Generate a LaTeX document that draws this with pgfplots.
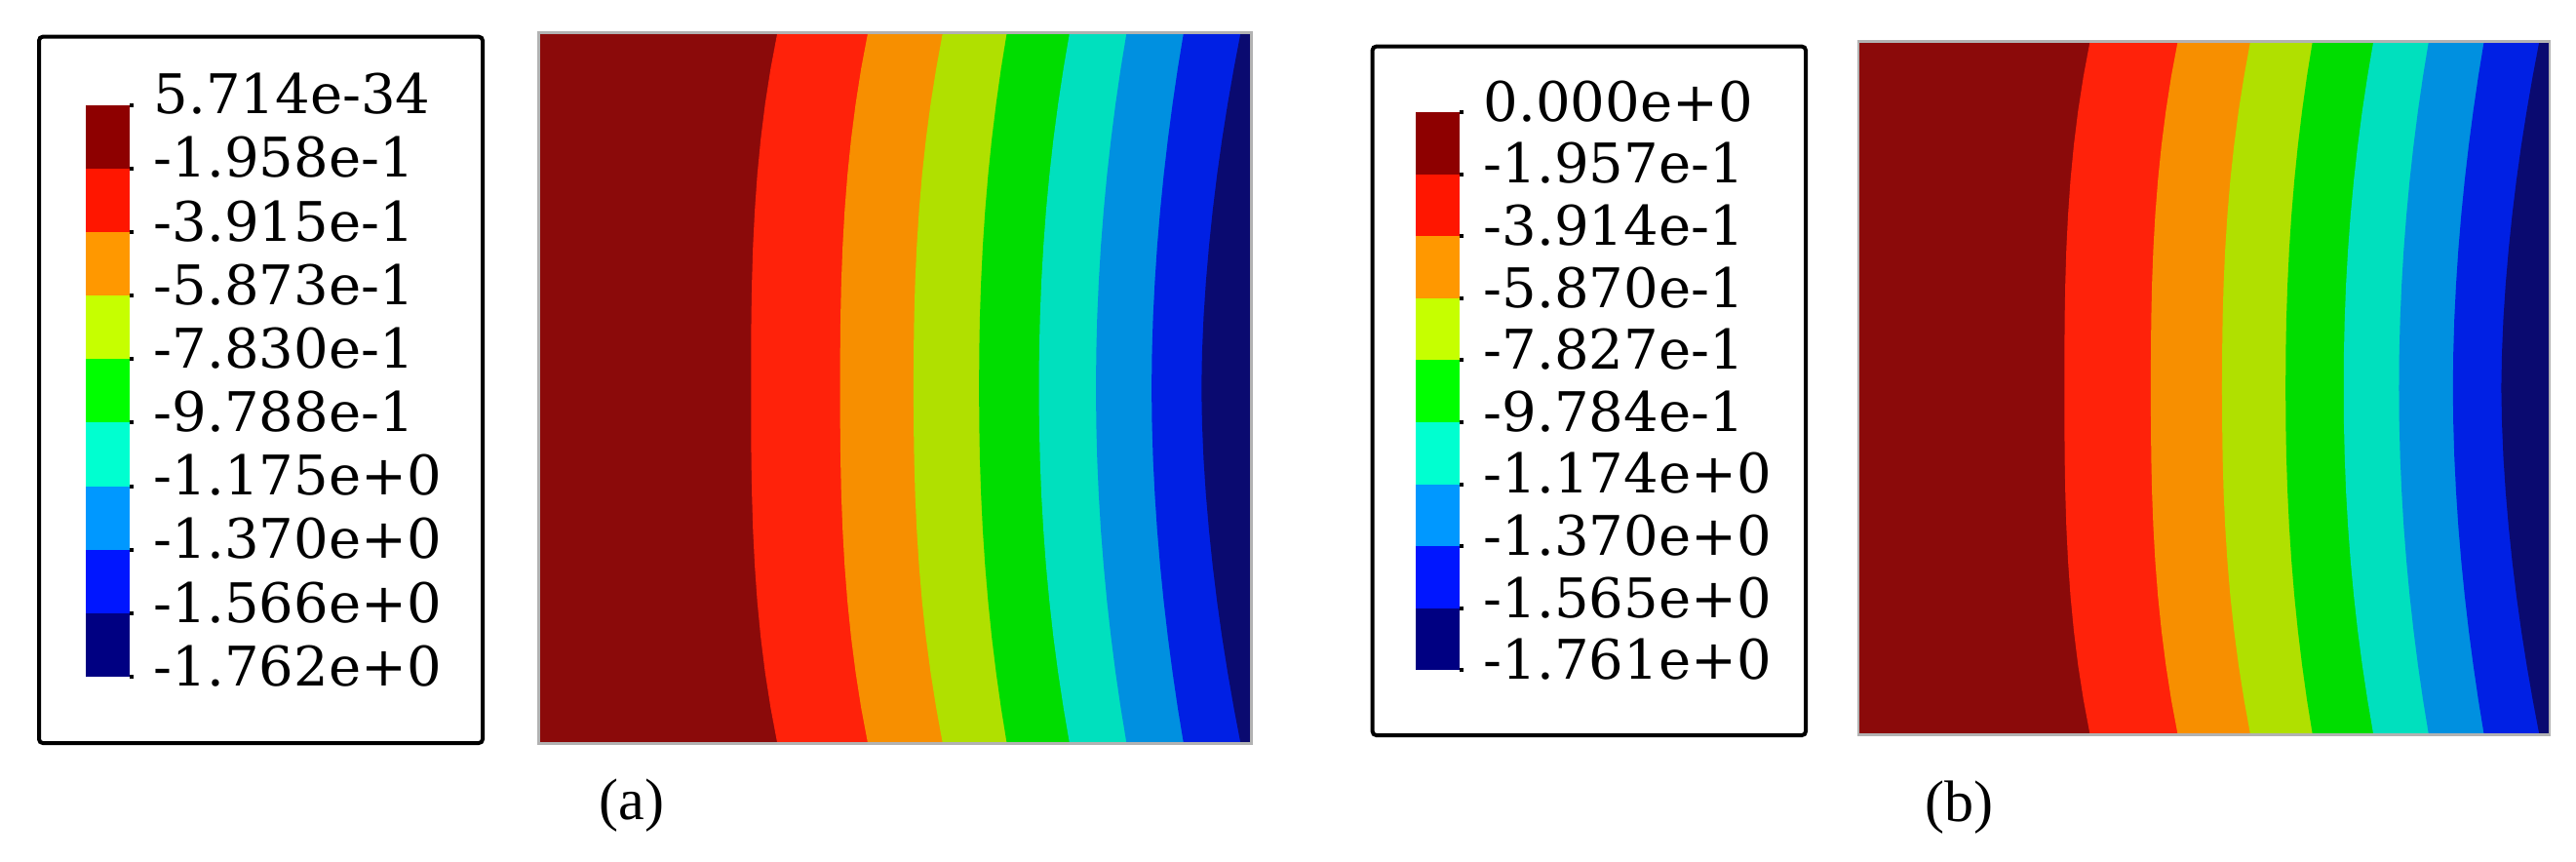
\documentclass[border=0pt]{standalone}
\usepackage{pgfplots}
\pgfplotsset{compat=1.18}
\usepackage{pgfplotstable}
\usepackage{fontspec}
\setmainfont{Liberation Serif}
\newfontfamily\legfont{DejaVu Serif}

% contour plot colours
\definecolor{p1}{RGB}{139,10,10}
\definecolor{p2}{RGB}{255,34,10}
\definecolor{p3}{RGB}{247,143,0}
\definecolor{p4}{RGB}{176,224,0}
\definecolor{p5}{RGB}{0,221,0}
\definecolor{p6}{RGB}{0,224,190}
\definecolor{p7}{RGB}{0,144,224}
\definecolor{p8}{RGB}{0,32,228}
\definecolor{p9}{RGB}{10,10,112}
% legend colours
\definecolor{l1}{RGB}{142,0,0}
\definecolor{l2}{RGB}{255,22,0}
\definecolor{l3}{RGB}{255,152,0}
\definecolor{l4}{RGB}{198,255,0}
\definecolor{l5}{RGB}{0,255,0}
\definecolor{l6}{RGB}{0,255,208}
\definecolor{l7}{RGB}{0,152,255}
\definecolor{l8}{RGB}{0,22,255}
\definecolor{l9}{RGB}{0,0,130}

% band boundaries (normalised x) at heights y; first and last rows are the right-hand corners
\pgfplotstableread{
y    b1     b2     b3     b4     b5     b6     b7     b8
1.00 1      1      1      1      1      1      1      1
1.00 0.3350 0.4620 0.5670 0.6570 0.7450 0.8250 0.9050 0.9850
0.95 0.3256 0.4526 0.5579 0.6489 0.7365 0.8168 0.8968 0.9755
0.90 0.3178 0.4448 0.5500 0.6419 0.7289 0.8095 0.8895 0.9668
0.85 0.3116 0.4384 0.5434 0.6358 0.7223 0.8031 0.8829 0.9589
0.80 0.3068 0.4333 0.5380 0.6307 0.7167 0.7975 0.8771 0.9519
0.75 0.3033 0.4294 0.5338 0.6265 0.7120 0.7928 0.8721 0.9458
0.70 0.3008 0.4266 0.5306 0.6232 0.7083 0.7889 0.8679 0.9406
0.65 0.2993 0.4247 0.5283 0.6208 0.7054 0.7859 0.8646 0.9363
0.60 0.2984 0.4236 0.5269 0.6191 0.7035 0.7837 0.8621 0.9330
0.55 0.2981 0.4231 0.5262 0.6182 0.7023 0.7824 0.8606 0.9309
0.50 0.2980 0.4230 0.5260 0.6180 0.7020 0.7820 0.8600 0.9300
0.45 0.2981 0.4231 0.5262 0.6182 0.7023 0.7824 0.8606 0.9309
0.40 0.2984 0.4236 0.5269 0.6191 0.7035 0.7837 0.8621 0.9330
0.35 0.2993 0.4247 0.5283 0.6208 0.7054 0.7859 0.8646 0.9363
0.30 0.3008 0.4266 0.5306 0.6232 0.7083 0.7889 0.8679 0.9406
0.25 0.3033 0.4294 0.5338 0.6265 0.7120 0.7928 0.8721 0.9458
0.20 0.3068 0.4333 0.5380 0.6307 0.7167 0.7975 0.8771 0.9519
0.15 0.3116 0.4384 0.5434 0.6358 0.7223 0.8031 0.8829 0.9589
0.10 0.3178 0.4448 0.5500 0.6419 0.7289 0.8095 0.8895 0.9668
0.05 0.3256 0.4526 0.5579 0.6489 0.7365 0.8168 0.8968 0.9755
0.00 0.3350 0.4620 0.5670 0.6570 0.7450 0.8250 0.9050 0.9850
0.00 1      1      1      1      1      1      1      1
}\bounds

\pgfplotsset{
  contour/.style={scale only axis, anchor=north west,
    xmin=0, xmax=1, ymin=0, ymax=1,
    xtick=\empty, ytick=\empty,
    axis line style={draw=black!30, line width=0.6pt},
    axis on top},
  cbar/.style={scale only axis, anchor=north west,
    xmin=0, xmax=1, ymin=0, ymax=9,
    axis line style={draw=none},
    xtick=\empty, ytick={0,1,...,9},
    ytick pos=right, yticklabel pos=right,
    tick align=outside, major tick length=1pt,
    tick style={black, line width=1pt},
    yticklabel style={font=\fontsize{14}{16}\legfont, anchor=west,
      inner sep=0pt, xshift=5pt, yshift=2.8pt},
    clip=false},
}

\newcommand{\contourbands}{%
  \addplot[fill=p1, draw=none] coordinates {(0,0) (1,0) (1,1) (0,1)} -- cycle;
  \addplot[fill=p2, draw=none] table[x=b1, y=y] {\bounds} -- cycle;
  \addplot[fill=p3, draw=none] table[x=b2, y=y] {\bounds} -- cycle;
  \addplot[fill=p4, draw=none] table[x=b3, y=y] {\bounds} -- cycle;
  \addplot[fill=p5, draw=none] table[x=b4, y=y] {\bounds} -- cycle;
  \addplot[fill=p6, draw=none] table[x=b5, y=y] {\bounds} -- cycle;
  \addplot[fill=p7, draw=none] table[x=b6, y=y] {\bounds} -- cycle;
  \addplot[fill=p8, draw=none] table[x=b7, y=y] {\bounds} -- cycle;
  \addplot[fill=p9, draw=none] table[x=b8, y=y] {\bounds} -- cycle;
}
\newcommand{\colorbarbins}{%
  \addplot[fill=l9, draw=none] coordinates {(0,0) (1,0) (1,1) (0,1)} -- cycle;
  \addplot[fill=l8, draw=none] coordinates {(0,1) (1,1) (1,2) (0,2)} -- cycle;
  \addplot[fill=l7, draw=none] coordinates {(0,2) (1,2) (1,3) (0,3)} -- cycle;
  \addplot[fill=l6, draw=none] coordinates {(0,3) (1,3) (1,4) (0,4)} -- cycle;
  \addplot[fill=l5, draw=none] coordinates {(0,4) (1,4) (1,5) (0,5)} -- cycle;
  \addplot[fill=l4, draw=none] coordinates {(0,5) (1,5) (1,6) (0,6)} -- cycle;
  \addplot[fill=l3, draw=none] coordinates {(0,6) (1,6) (1,7) (0,7)} -- cycle;
  \addplot[fill=l2, draw=none] coordinates {(0,7) (1,7) (1,8) (0,8)} -- cycle;
  \addplot[fill=l1, draw=none] coordinates {(0,8) (1,8) (1,9) (0,9)} -- cycle;
}

\begin{document}
\begin{tikzpicture}
\useasboundingbox (0,0) rectangle (660.5pt,-220.75pt);

% ---------- (a) ----------
\draw[line width=1pt, rounded corners=1pt] (10pt,-9.4pt) rectangle (123.75pt,-190.5pt);
\begin{axis}[cbar, at={(22pt,-26.9pt)}, width=11.25pt, height=146.6pt,
  yticklabels={-1.762e+0,-1.566e+0,-1.370e+0,-1.175e+0,-9.788e-1,-7.830e-1,-5.873e-1,-3.915e-1,-1.958e-1,5.714e-34}]
\colorbarbins
\end{axis}
\begin{axis}[contour, at={(138.1pt,-8.4pt)}, width=182.75pt, height=182.25pt]
\contourbands
\end{axis}
\node[font=\fontsize{15}{17}\selectfont] at (162pt,-206.5pt) {(a)};

% ---------- (b) ----------
\draw[line width=1pt, rounded corners=1pt] (351.9pt,-11.9pt) rectangle (463pt,-188.5pt);
\begin{axis}[cbar, at={(363pt,-28.75pt)}, width=11.25pt, height=143.1pt,
  yticklabels={-1.761e+0,-1.565e+0,-1.370e+0,-1.174e+0,-9.784e-1,-7.827e-1,-5.870e-1,-3.914e-1,-1.957e-1,0.000e+0}]
\colorbarbins
\end{axis}
\begin{axis}[contour, at={(476.5pt,-10.6pt)}, width=177.25pt, height=177.75pt]
\contourbands
\end{axis}
\node[font=\fontsize{15}{17}\selectfont] at (502.25pt,-207pt) {(b)};
\end{tikzpicture}
\end{document}
